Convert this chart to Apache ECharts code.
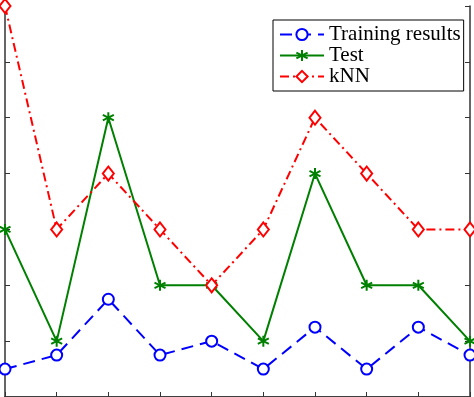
<!DOCTYPE html>
<html>
<head>
<meta charset="utf-8">
<script src="https://cdn.jsdelivr.net/npm/echarts@6/dist/echarts.min.js"></script>
<style>
  html, body { margin: 0; padding: 0; background: #fff; }
  #main { width: 474px; height: 397px; }
</style>
</head>
<body>
<div id="main"></div>
<script>
var categories = ['1', '2', '3', '4', '5', '6', '7', '8', '9', '10'];
var training = [0.5, 0.75, 1.75, 0.75, 1, 0.5, 1.25, 0.5, 1.25, 0.75];
var test = [3, 1, 5, 2, 2, 1, 4, 2, 2, 1];
var knn = [7, 3, 4, 3, 2, 3, 5, 4, 3, 3];

var chartDom = document.getElementById('main');
var myChart = echarts.init(chartDom);

// asterisk marker, drawn with stroke only
var star = 'path://M0,-10 L0,10 M-8.66,-5 L8.66,5 M-8.66,5 L8.66,-5';

var boxAxis = {
  axisLine: { show: true, lineStyle: { color: '#333', width: 1.5 } },
  axisTick: { show: true, inside: true, length: 5, lineStyle: { color: '#333', width: 1 } },
  axisLabel: { show: false },
  splitLine: { show: false }
};

var option = {
  animation: false,
  backgroundColor: '#fff',
  grid: { left: 5, right: 4, top: 6, bottom: -2 },
  legend: {
    orient: 'vertical',
    left: 273,
    top: 20,
    padding: [4, 3, 4, 6],
    itemGap: 0,
    itemWidth: 44,
    itemHeight: 14,
    backgroundColor: '#fff',
    borderColor: '#000',
    borderWidth: 1,
    borderRadius: 0,
    textStyle: { fontFamily: 'Liberation Serif', fontSize: 21, lineHeight: 20, color: '#000' },
    data: ['Training results', 'Test', 'kNN']
  },
  xAxis: [
    Object.assign({ type: 'category', data: categories, boundaryGap: false, position: 'bottom' }, boxAxis),
    Object.assign({ type: 'category', data: categories, boundaryGap: false, position: 'top' }, boxAxis)
  ],
  yAxis: [
    Object.assign({ type: 'value', min: 0, max: 7, interval: 1, position: 'left' }, boxAxis),
    Object.assign({ type: 'value', min: 0, max: 7, interval: 1, position: 'right' }, boxAxis)
  ],
  series: [
    {
      name: 'Training results',
      type: 'line',
      data: training,
      symbol: 'emptyCircle',
      symbolSize: 11,
      z: 3,
      lineStyle: { color: '#0000ff', width: 2, type: [12, 7] },
      itemStyle: { color: '#0000ff', borderColor: '#0000ff', borderWidth: 2 }
    },
    {
      name: 'Test',
      type: 'line',
      data: test,
      symbol: star,
      symbolSize: 11,
      z: 2,
      lineStyle: { color: '#008000', width: 2 },
      itemStyle: { color: '#008000', borderColor: '#008000', borderWidth: 2 }
    },
    {
      name: 'kNN',
      type: 'line',
      data: knn,
      symbol: 'path://M0,-13 L10,0 L0,13 L-10,0 Z',
      symbolSize: [11, 14],
      z: 2,
      lineStyle: { color: '#ff0000', width: 2, type: [9, 4, 2, 4] },
      itemStyle: { color: '#fff', borderColor: '#ff0000', borderWidth: 2 }
    }
  ]
};

myChart.setOption(option);
</script>
</body>
</html>
